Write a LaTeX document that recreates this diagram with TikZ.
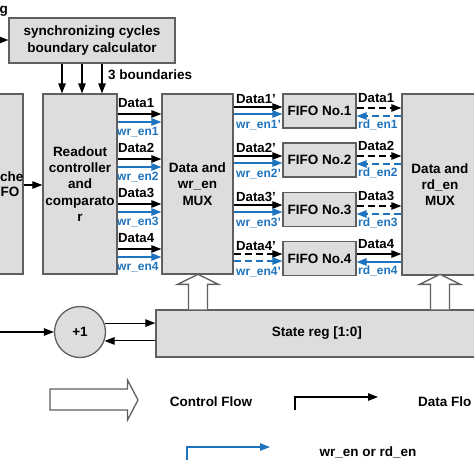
\documentclass[tikz,border=0pt]{standalone}
\usepackage{fontspec}
\setmainfont{Liberation Sans}
\usetikzlibrary{arrows.meta}
\definecolor{boxfill}{RGB}{221,221,221}
\definecolor{boxline}{RGB}{95,95,95}
\definecolor{enblue}{RGB}{30,115,190}
\begin{document}
\begin{tikzpicture}[x=1pt,y=-1pt,
 box/.style={draw=boxline,fill=boxfill,line width=1.3pt,inner sep=0pt,font=\bfseries\fontsize{13.5}{16.3}\selectfont,align=center},
 dat/.style={draw=black,line width=1.1pt,-{Triangle[length=10pt,width=7.5pt]}},
 en/.style={draw=enblue,line width=1.1pt,-{Triangle[length=10pt,width=7.5pt]}},
 dlab/.style={font=\bfseries\fontsize{13.2}{13}\selectfont,inner sep=0pt,anchor=west},
 elab/.style={font=\bfseries\fontsize{12}{12}\selectfont,inner sep=0pt,anchor=west,text=enblue},
 txt/.style={font=\bfseries\fontsize{13.5}{13}\selectfont,inner sep=0pt},
 ctrl/.style={draw=boxline,fill=white,line width=1.3pt,line join=miter},
 dsh/.style={dash pattern=on 7pt off 4pt},
]
\useasboundingbox (0,0) rectangle (474,474);
\clip (0,0) rectangle (474,474);

% boxes
\node[box,minimum width=166pt,minimum height=45pt] (sync) at (92,40.5) {synchronizing cycles\\boundary calculator};
\node[box,minimum width=28pt,minimum height=180pt] (cache) at (9,184) {};
\node[txt,anchor=east] (cachet1) at (23.5,177) {che};
\node[txt,anchor=east] (cachet2) at (19.5,192) {FO};
\node[box,minimum width=74pt,minimum height=180pt] (readout) at (80,184) {Readout\\controller\\and\\comparato\\r};
\node[box,minimum width=71pt,minimum height=180pt] (dmux) at (197.5,184) {Data and\\wr\_en\\MUX};
\node[box,minimum width=73pt,minimum height=34pt] (fifo1) at (319.5,111) {FIFO No.1};
\node[box,minimum width=73pt,minimum height=34pt] (fifo2) at (319.5,160) {FIFO No.2};
\node[box,minimum width=73pt,minimum height=34pt] (fifo3) at (319.5,209.5) {FIFO No.3};
\node[box,minimum width=73pt,minimum height=34pt] (fifo4) at (319.5,258.5) {FIFO No.4};
\node[box,minimum width=76pt,minimum height=181pt] (rmux) at (440,184.5) {Data and\\rd\_en\\MUX};
\node[box,minimum width=322pt,minimum height=47pt] (state) at (317,333.5) {State reg [1:0]};
\node[box,circle,minimum size=51pt] (inc) at (80,332) {+1};

% top
\node[txt,anchor=west] (gtxt) at (-0.5,11) {g};
\coordinate (inS) at (0,40);
\draw[dat] (inS) -- (sync.west |- inS);
\foreach \xx in {62,82,102}
  \draw[dat] (sync.south -| \xx,0) -- (readout.north -| \xx,0);
\node[txt,anchor=west] (bnd) at (108,75) {3 boundaries};

\draw[dat] (cache.east |- 0,185) -- (readout.west |- 0,185);

% readout -> data mux
\foreach \i/\yb in {1/114,2/159,3/204,4/249}{
  \draw[dat] (readout.east |- 0,\yb) -- (dmux.west |- 0,\yb);
  \draw[en] (readout.east |- 0,\yb+8) -- (dmux.west |- 0,\yb+8);
  \node[dlab] (dl\i) at (118,\yb-11) {Data\i};
  \node[elab] (el\i) at (117,\yb+18) {wr\_en\i};
}

% data mux -> fifos
\foreach \i/\yb/\st in {1/107/solid,2/156/solid,3/205/solid,4/254/dsh}{
  \draw[dat,\st] (dmux.east |- 0,\yb) -- (fifo\i.west |- 0,\yb);
  \draw[en,\st] (dmux.east |- 0,\yb+7) -- (fifo\i.west |- 0,\yb+7);
  \node[dlab] (dp\i) at (236,\yb-8) {Data\i'};
  \node[elab] (ep\i) at (236,\yb+18) {wr\_en\i'};
}

% fifos -> rd mux
\foreach \i/\yb/\st in {1/108/dsh,2/156/dsh,3/206/dsh,4/254/solid}{
  \draw[dat,\st] (fifo\i.east |- 0,\yb) -- (rmux.west |- 0,\yb);
  \draw[en,\st] (rmux.west |- 0,\yb+8) -- (fifo\i.east |- 0,\yb+8);
  \node[dlab] (dr\i) at (358,\yb-10) {Data\i};
  \node[elab] (er\i) at (358,\yb+17) {rd\_en\i};
}

% control arrows
\draw[ctrl] (state.north -| 188.5,0) -- ++(0,-25) -- ++(-11,0) -- ++(20.5,-10) -- ++(20.5,10) -- ++(-11,0) -- ++(0,25);
\draw[ctrl] (state.north -| 430.5,0) -- ++(0,-25) -- ++(-11,0) -- ++(20.5,-10) -- ++(20.5,10) -- ++(-11,0) -- ++(0,25);

% +1 loop
\coordinate (inC) at (0,332);
\draw[dat] (inC) -- (inc.west);
\draw[dat] (inc.20) -- (state.west |- inc.20);
\draw[dat] (state.west |- inc.-20) -- (inc.-20);

% legend
\draw[ctrl] (50,389) -- (127.5,389) -- (127.5,380) -- (138,400) -- (127.5,420) -- (127.5,410) -- (50,410) -- cycle;
\node[txt] (lgc) at (211,402) {Control Flow};
\coordinate (ld0) at (295,410);
\coordinate (ld1) at (378,397);
\draw[dat] (ld0) |- (ld1);
\node[txt,anchor=west] (lgd) at (418,402) {Data Flo};
\coordinate (le0) at (187,460);
\coordinate (le1) at (270,447);
\draw[en] (le0) |- (le1);
\node[txt] (lge) at (368,452) {wr\_en or rd\_en};
\end{tikzpicture}
\end{document}
